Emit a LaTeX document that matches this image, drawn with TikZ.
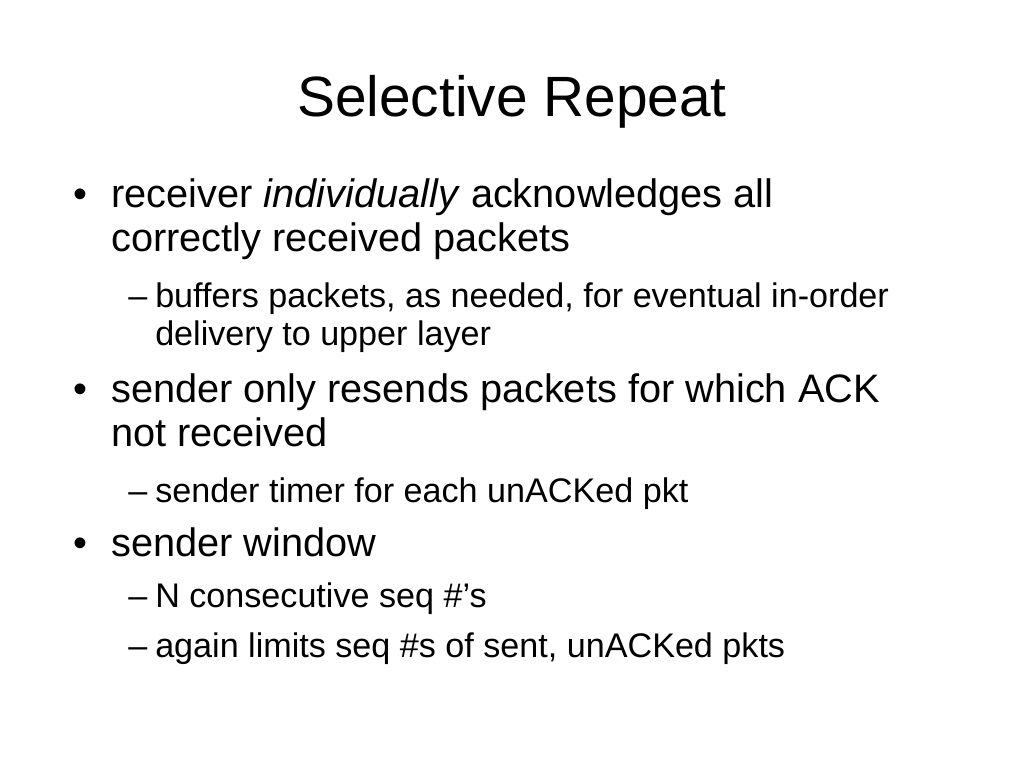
\documentclass[tikz,border=0pt]{standalone}
\usepackage{fontspec}
\setmainfont{Liberation Sans}
\begin{document}
\begin{tikzpicture}[x=0.75pt,y=-0.75pt,
  lone/.style={anchor=base west,inner sep=0pt,font=\fontsize{29.8}{34}\selectfont},
  ltwo/.style={anchor=base west,inner sep=0pt,font=\fontsize{25.6}{30}\selectfont}]
\useasboundingbox (0,0) rectangle (1024,768);
\node[anchor=base,inner sep=0pt,font=\fontsize{42.6}{50}\selectfont] (title) at (512,116) {Selective Repeat};
\node[lone] (b1) at (73,207) {•};
\node[lone] (t1a) at (111,207) {receiver \textit{individually} acknowledges all};
\node[lone] (t1b) at (111,251) {correctly received packets};
\node[ltwo] (d1) at (128,307) {–};
\node[ltwo] (s1a) at (155,307) {buffers packets, as needed, for eventual in-order};
\node[ltwo] (s1b) at (155,345) {delivery to upper layer};
\node[lone] (b2) at (73,402) {•};
\node[lone] (t2a) at (111,402) {sender only resends packets for which ACK};
\node[lone] (t2b) at (111,446) {not received};
\node[ltwo] (d2) at (128,502) {–};
\node[ltwo] (s2) at (155,502) {sender timer for each unACKed pkt};
\node[lone] (b3) at (73,556) {•};
\node[lone] (t3) at (111,556) {sender window};
\node[ltwo] (d3) at (128,607) {–};
\node[ltwo] (s3) at (155,607) {N consecutive seq \#’s};
\node[ltwo] (d4) at (128,657) {–};
\node[ltwo] (s4) at (155,657) {again limits seq \#s of sent, unACKed pkts};
\end{tikzpicture}
\end{document}
